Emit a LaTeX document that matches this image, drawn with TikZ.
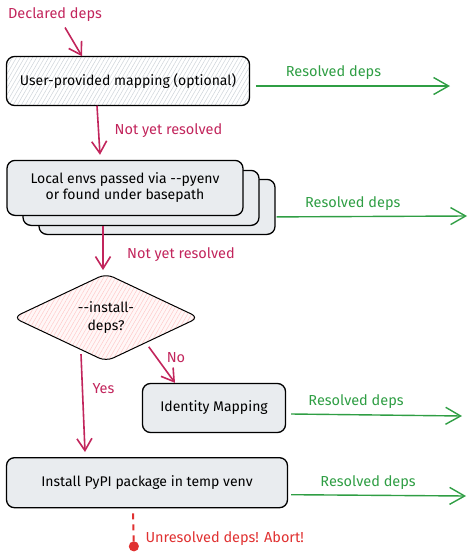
\documentclass[tikz,border=0pt]{standalone}
\usepackage{fontspec}
\setmainfont{Fira Sans}
\usetikzlibrary{shapes.geometric, arrows.meta, positioning, shadows, patterns.meta}

\definecolor{deppink}{HTML}{C2255C}
\definecolor{depgreen}{HTML}{2F9E44}
\definecolor{abortred}{HTML}{E03131}
\definecolor{boxgray}{HTML}{E9ECEF}
\definecolor{hatchgray}{HTML}{CED4DA}
\definecolor{hatchpink}{HTML}{FFC9C9}

\tikzset{
  stepbox/.style={draw, line width=1.3pt, rounded corners=8pt, fill=boxgray,
    align=center, font=\fontsize{14}{16}\selectfont},
  flow/.style={-{Straight Barb[length=12pt,width=15pt]}, line width=1.6pt, deppink},
  resolved/.style={-{Straight Barb[length=15pt,width=17pt]}, line width=1.4pt, depgreen},
  flowlabel/.style={font=\fontsize{14.5}{16}\selectfont, text=deppink},
  greenlabel/.style={font=\fontsize{14.5}{16}\selectfont, text=depgreen},
}

\begin{document}
\begin{tikzpicture}[x=1pt, y=-1pt]
\useasboundingbox (0,0) rectangle (474,555);

% Declared deps
\node[flowlabel] (declared) at (55,15) {Declared deps};

% User mapping
\node[stepbox,
    minimum width=243pt,
    minimum height=49pt,
    preaction={fill=white},
    pattern={Lines[angle=60,distance=3.5pt,line width=0.5pt]},
    pattern color=hatchgray
] (mapping) at (128,81) {User-provided mapping (optional)};

% Local envs, stacked
\node[stepbox,
    below=54pt of mapping, xshift=-3pt,
    minimum width=236pt,
    minimum height=55pt,
    copy shadow={shadow xshift=32pt, shadow yshift=-19pt, fill=boxgray, draw=black, line width=1.3pt},
    copy shadow={shadow xshift=16pt, shadow yshift=-10pt, fill=boxgray, draw=black, line width=1.3pt}
] (localenvs) {Local envs passed via -{}-pyenv\\or found under basepath};

% Decision
\node[draw,
    diamond,
    line width=1pt, rounded corners=8pt,
    below=57pt of localenvs, xshift=-19pt,
    minimum width=186pt,
    minimum height=88pt,
    aspect=2.1, inner sep=0pt,
    preaction={fill=red!3},
    pattern={Lines[angle=60,distance=3.5pt,line width=0.5pt]},
    pattern color=hatchpink,
    align=center, font=\fontsize{14}{18}\selectfont
] (askinstall) {-{}-install-\\deps?};

\node[stepbox,
    minimum width=143pt,
    minimum height=49pt
] (identity) at (214,408) {Identity Mapping};

\node[stepbox,
    below=95pt of askinstall, xshift=41pt,
    minimum width=281pt,
    minimum height=50pt
] (install) {Install PyPI package in temp venv};

% free ends
\coordinate (out1) at (450,86);
\coordinate (out2) at (467,216);
\coordinate (out3) at (462,416);
\coordinate (out4) at (466,496);
\coordinate (abort) at ([shift={(-13pt,-43pt)}]install.south);

% Arrows
\draw[flow] ([xshift=10pt,yshift=-2pt]declared.south) -- ([xshift=-46pt]mapping.north);

\draw[flow] ([xshift=-31pt]mapping.south) -- ([xshift=-25pt,yshift=5pt]localenvs.north)
    node[midway,right=12pt,flowlabel]{Not yet resolved};

\draw[flow] ([xshift=-22pt,yshift=-10pt]localenvs.south) -- ([xshift=-3pt,yshift=3pt]askinstall.north)
    node[pos=0.65,right=20pt,flowlabel]{Not yet resolved};

\draw[flow] ([shift={(-4pt,-7pt)}]askinstall.south east) -- ([xshift=-39pt]identity.north)
    node[pos=0.3,right=6pt,flowlabel]{No};

\draw[flow] ([shift={(-25pt,8pt)}]askinstall.south) -- ([shift={(-62pt,5pt)}]install.north)
    node[pos=0.35,right=6pt,flowlabel]{Yes};

\draw[resolved] ([shift={(6pt,-5pt)}]mapping.east) -- (out1)
    node[pos=0.4,above=2pt,greenlabel]{Resolved deps};
\draw[resolved] ([shift={(33pt,-29pt)}]localenvs.east) -- (out2)
    node[pos=0.4,above=2pt,greenlabel]{Resolved deps};
\draw[resolved] ([shift={(5pt,-6pt)}]identity.east) -- (out3)
    node[pos=0.38,above=2pt,greenlabel]{Resolved deps};
\draw[resolved] ([shift={(3pt,-12pt)}]install.east) -- (out4)
    node[pos=0.44,above=2pt,greenlabel]{Resolved deps};

\draw[abortred, line width=2pt, dash pattern=on 6pt off 5pt, -{Circle[length=10pt]}]
    ([xshift=-14pt,yshift=-5pt]install.south) -- (abort);
\node[above right=2pt and 8pt of abort, text=abortred, font=\fontsize{14.5}{16}\selectfont] (abortlabel) {Unresolved deps! Abort!};

\end{tikzpicture}
\end{document}
